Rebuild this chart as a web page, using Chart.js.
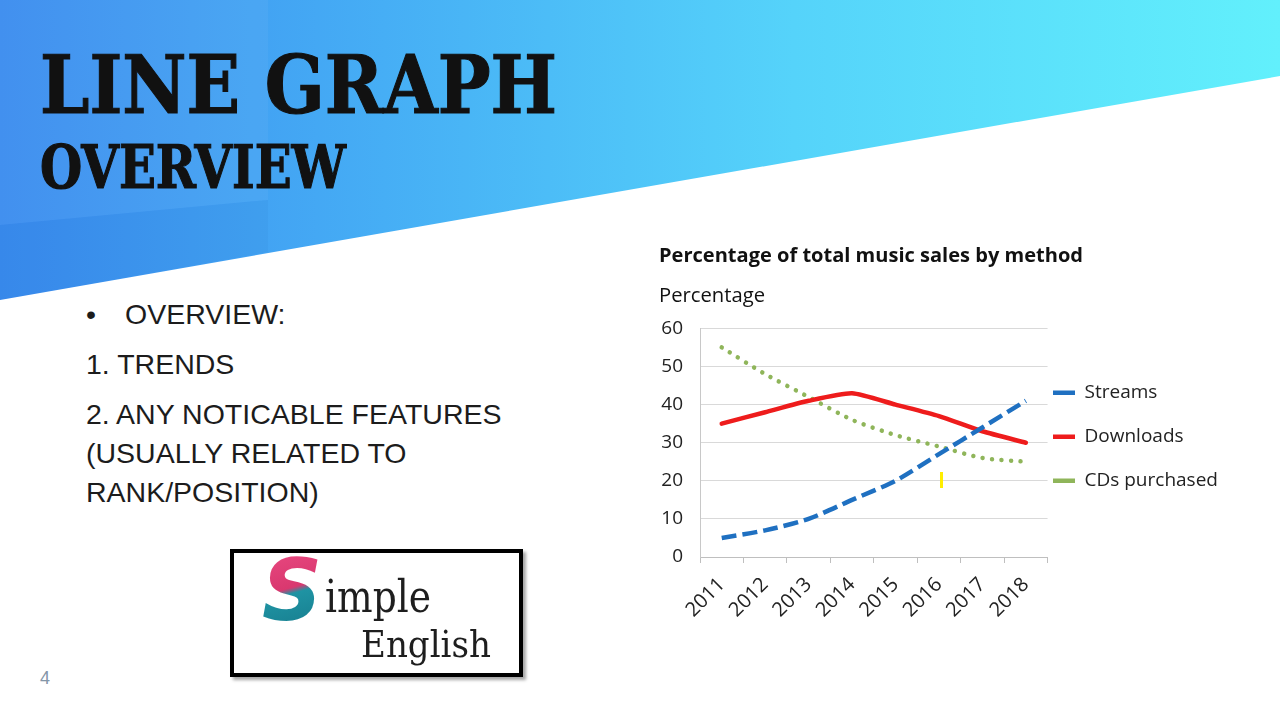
<!DOCTYPE html>
<html><head><meta charset="utf-8">
<script src="https://cdn.jsdelivr.net/npm/chart.js@4.4.1/dist/chart.umd.min.js"></script>
<style>
html,body{margin:0;padding:0;width:1280px;height:720px;overflow:hidden;background:#fff;}
#banner{position:absolute;left:0;top:0;width:1280px;height:300px;
  background:linear-gradient(90deg,#3a8cef 0%,#46aef5 30%,#55d3fa 62%,#62f0fc 100%);
  clip-path:polygon(0 0,100% 0,100% 76px,0 300px);}
#band1{position:absolute;left:0;top:0;width:268px;height:300px;background:rgba(255,255,255,0.045);
  clip-path:polygon(0 0,100% 0,100% 200px,0 225px);}
#band2{position:absolute;left:0;top:0;width:1280px;height:300px;background:rgba(0,40,120,0.035);
  clip-path:polygon(0 225px,268px 200px,268px 252px,0 300px);}
.t{position:absolute;white-space:nowrap;transform-origin:0 0;line-height:1;}
.big{font-family:"DejaVu Serif",serif;font-weight:bold;color:#111;-webkit-text-stroke:1.2px #111;}
.body{font-family:"Liberation Sans",Arial,sans-serif;font-size:28.5px;color:#1c1c1c;}
.ct{font-family:"Open Sans",sans-serif;color:#111;font-size:20px;}
#logo{position:absolute;left:230px;top:549px;width:285px;height:120px;border:4px solid #000;background:#fff;box-shadow:3px 3px 3px rgba(0,0,0,.35);}
#S{font-family:"DejaVu Sans",sans-serif;font-weight:bold;font-style:italic;font-size:85px;
  background:linear-gradient(165deg,#ea4a82 0%,#d9386f 47%,#1f93a3 53%,#15798a 100%);
  -webkit-background-clip:text;background-clip:text;color:transparent;}
.lg{font-family:"DejaVu Serif",serif;color:#1e1e1e;}
#wrap{position:absolute;left:640px;top:300px;width:620px;height:340px;}
#yel{position:absolute;left:940px;top:472px;width:3px;height:16px;background:#ffee00;}
</style></head>
<body>
<div id="banner"></div>
<div id="band1"></div>
<div id="band2"></div>
<div class="t big" id="h1" data-w="517" style="left:40px;top:45px;font-size:80px;">LINE GRAPH</div>
<div class="t big" id="h2" data-w="306" style="left:40px;top:138px;font-size:59px;">OVERVIEW</div>

<div class="t body" style="left:86px;top:300px;">•</div>
<div class="t body" style="left:125px;top:300px;">OVERVIEW:</div>
<div class="t body" style="left:86px;top:350px;">1. TRENDS</div>
<div class="t body" style="left:86px;top:400px;">2. ANY NOTICABLE FEATURES</div>
<div class="t body" style="left:86px;top:439px;">(USUALLY RELATED TO</div>
<div class="t body" style="left:86px;top:478px;">RANK/POSITION)</div>

<div id="logo"></div>
<div class="t" id="S" data-w="60" style="left:262px;top:548px;">S</div>
<div class="t lg" data-w="106" style="left:325px;top:574px;font-size:45px;">imple</div>
<div class="t lg" data-w="130" style="left:361px;top:626px;font-size:37px;">English</div>

<div class="t" style="left:40px;top:669px;font-family:'Liberation Sans',sans-serif;font-size:18px;color:#8496a8;">4</div>

<div class="t ct" data-w="424" style="left:659px;top:245px;font-weight:bold;">Percentage of total music sales by method</div>
<div class="t ct" data-w="106" style="left:659px;top:285px;">Percentage</div>

<div id="wrap"><canvas id="c" width="620" height="340"></canvas></div>
<div id="yel"></div>

<script>
const years = ['2011','2012','2013','2014','2015','2016','2017','2018'];
const streams = [5, 7, 10, 15, 20, 27, 34, 41];
const downloads = [35, 38, 41, 43, 40, 37, 33, 30];
const cds = [55, 48, 42, 36, 32, 29, 26, 25];
const yTicks = [0, 10, 20, 30, 40, 50, 60];
const seriesNames = ['Streams', 'Downloads', 'CDs purchased'];

document.querySelectorAll('[data-w]').forEach(el => {
  const w = el.getBoundingClientRect().width;
  const target = parseFloat(el.dataset.w);
  el.style.transform = 'scaleX(' + (target / w) + ')';
});

const CANVAS_LEFT = 640;
const AREA_RIGHT = 1047, LEGEND_X = 1053;

Chart.defaults.font.family = "'Open Sans', sans-serif";
Chart.defaults.color = '#222';

const legendPos = {
  id: 'legendPos',
  afterLayout(chart) {
    const lg = chart.legend;
    if (!lg) return;
    lg.left = LEGEND_X - CANVAS_LEFT - 25;
    lg.right = chart.width;
    lg.width = lg.right - lg.left;
    lg.top = chart.chartArea.top - 6;
    lg.bottom = chart.chartArea.bottom - 6;
  }
};

const chart = new Chart(document.getElementById('c'), {
  type: 'line',
  data: {
    labels: years,
    datasets: [
      { label: seriesNames[0], data: streams, borderColor: '#1f70c1', borderWidth: 4.5,
        borderDash: [15, 6], borderCapStyle: 'butt', tension: 0.25, pointRadius: 0, fill: false },
      { label: seriesNames[1], data: downloads, borderColor: '#ee1c1c', borderWidth: 4.5,
        borderCapStyle: 'round', tension: 0.2, pointRadius: 0, fill: false },
      { label: seriesNames[2], data: cds, borderColor: '#8fb55a', borderWidth: 4.5,
        borderDash: [0.01, 9.5], borderCapStyle: 'round', tension: 0.25, pointRadius: 0, fill: false }
    ]
  },
  options: {
    responsive: false,
    animation: false,
    layout: { padding: { left: 0, top: 27, right: 30, bottom: 0 } },
    plugins: {
      title: { display: false },
      tooltip: { enabled: false },
      legend: {
        position: 'right',
        fullSize: false,
        labels: {
          usePointStyle: true,
          pointStyle: 'line',
          pointStyleWidth: 22,
          padding: 25,
          color: '#222',
          font: { size: 19 }
        }
      }
    },
    scales: {
      x: {
        offset: true,
        grid: { offset: true, drawOnChartArea: false, drawTicks: true, tickLength: 6, color: '#bfbfbf' },
        border: { color: '#bfbfbf' },
        ticks: { minRotation: 45, maxRotation: 45, autoSkip: false, padding: 10, font: { size: 20 }, color: '#222' },
        afterFit(s) { s.height = 83; }
      },
      y: {
        min: 0, max: 60,
        afterBuildTicks(s) { s.ticks = yTicks.map(v => ({ value: v })); },
        grid: { color: '#d9d9d9', drawTicks: false },
        border: { color: '#c8c8c8' },
        ticks: { padding: 17, font: { size: 19 }, color: '#222' },
        afterFit(s) { s.width = 60; }
      }
    }
  },
  plugins: [legendPos]
});

for (let i = 0; i < 3; i++) {
  const dx = chart.chartArea.right - (AREA_RIGHT - CANVAS_LEFT);
  if (Math.abs(dx) <= 0.5) break;
  chart.config.options.layout.padding.right += dx;
  chart.update('none');
}
</script>
</body></html>
